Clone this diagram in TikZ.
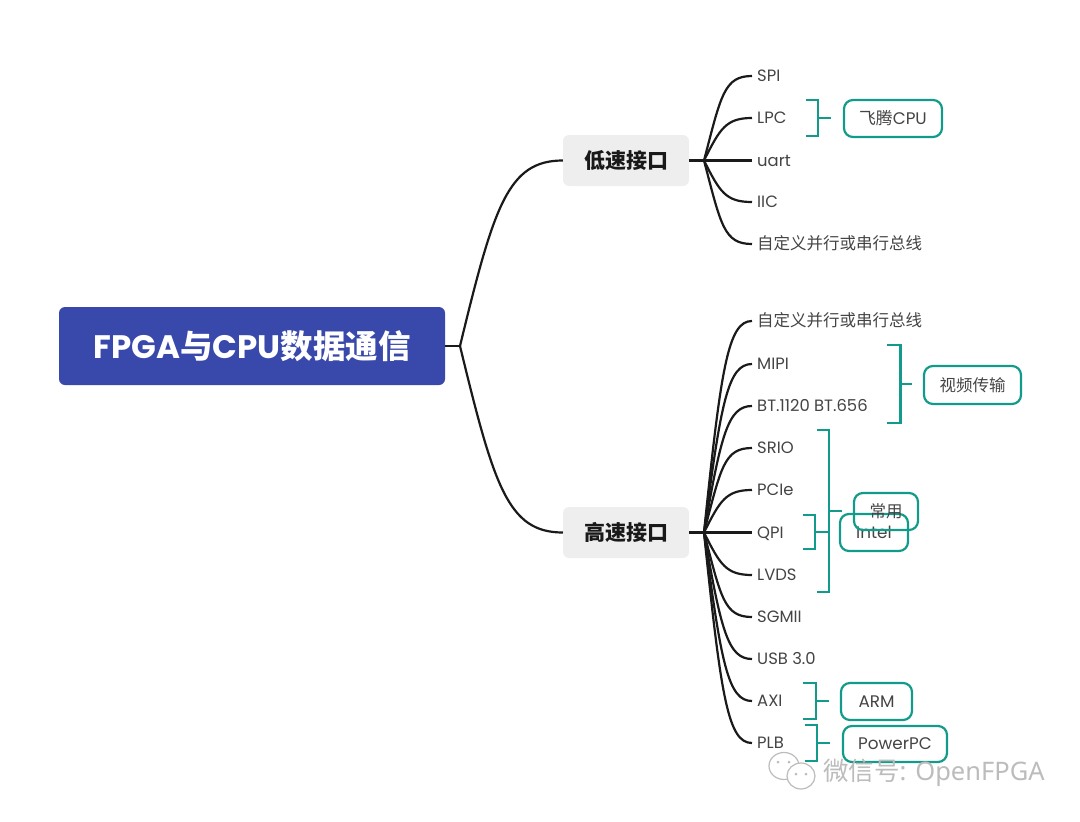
\documentclass[tikz,border=0pt]{standalone}
\usepackage{fontspec}
\setmainfont{Poppins}
\newfontfamily\cjk{Noto Sans CJK SC}
\newfontfamily\markfont{Noto Sans}
\definecolor{rootblue}{HTML}{3949AB}
\definecolor{midgray}{HTML}{EEEEEE}
\definecolor{braceteal}{HTML}{129A8A}
\definecolor{leafgray}{HTML}{444444}
\definecolor{linedark}{HTML}{1A1A1A}
\definecolor{markgray}{HTML}{BCBCBC}
\tikzset{
  rootbox/.style={fill=rootblue,text=white,rounded corners=6pt,minimum width=386pt,minimum height=78pt,font=\fontsize{32.5}{38}\selectfont\bfseries},
  midbox/.style={fill=midgray,text=black!90,rounded corners=6pt,minimum width=126pt,minimum height=51pt,font=\fontsize{21}{26}\selectfont\cjk\bfseries},
  leaf/.style={anchor=west,inner xsep=5pt,inner ysep=0pt,text height=13pt,text depth=1.5pt,text=leafgray,font=\fontsize{16.4}{18}\selectfont},
  tagbox/.style={draw=braceteal,line width=2.2pt,rounded corners=9pt,text=leafgray,font=\fontsize{16.8}{18}\selectfont},
  branch/.style={draw=linedark,line width=2.2pt},
  brace/.style={draw=braceteal,line width=2.4pt},
  markline/.style={draw=markgray,fill=white,line width=1.2pt}
}
\begin{document}
\begin{tikzpicture}[x=1pt,y=-1pt]
\useasboundingbox (0,0) rectangle (1080,822);

\node[rootbox] (root) at (252,346) {FPGA{\cjk 与}CPU{\cjk 数据通信}};
\node[midbox] (low) at (626,160.5) {低速接口};
\node[midbox] (high) at (626,532.5) {高速接口};
\coordinate (roothub) at (460,346);
\coordinate (lowhub) at (704,160.5);
\coordinate (highhub) at (704,532.5);

\node[leaf] (spi) at (752,76) {SPI};
\node[leaf] (lpc) at (752,118) {LPC};
\node[leaf] (uart) at (752,160.5) {uart};
\node[leaf] (iic) at (752,202) {IIC};
\node[leaf,font=\fontsize{16.5}{18}\selectfont\cjk] (lowbus) at (752,244) {自定义并行或串行总线};

\node[leaf,font=\fontsize{16.5}{18}\selectfont\cjk] (highbus) at (752,321) {自定义并行或串行总线};
\node[leaf] (mipi) at (752,364) {MIPI};
\node[leaf] (bt) at (752,406) {BT.1120 BT.656};
\node[leaf] (srio) at (752,448) {SRIO};
\node[leaf] (pcie) at (752,490) {PCIe};
\node[leaf] (qpi) at (752,532.5) {QPI};
\node[leaf] (lvds) at (752,575) {LVDS};
\node[leaf] (sgmii) at (752,617) {SGMII};
\node[leaf] (usb) at (752,659) {USB 3.0};
\node[leaf] (axi) at (752,701) {AXI};
\node[leaf] (plb) at (752,743) {PLB};

% root to middle
\draw[branch,line width=2pt] (root.east) -- (roothub);
\draw[branch] (roothub) .. controls +(34,-140) and +(-55,0) .. (low.west);
\draw[branch] (roothub) .. controls +(34,140) and +(-55,0) .. (high.west);
\draw[branch] (low.east) -- (lowhub);
\draw[branch] (high.east) -- (highhub);

% low speed
\draw[branch] (lowhub) .. controls +(17,-65) and +(-28,0) .. (spi.west);
\draw[branch] (lowhub) .. controls +(16,-32) and +(-26,0) .. (lpc.west);
\draw[branch] (lowhub) -- (uart.west);
\draw[branch] (lowhub) .. controls +(16,32) and +(-26,0) .. (iic.west);
\draw[branch] (lowhub) .. controls +(17,65) and +(-28,0) .. (lowbus.west);

% high speed
\draw[branch] (highhub) .. controls +(17,-165) and +(-24,0) .. (highbus.west);
\draw[branch] (highhub) .. controls +(17,-131) and +(-24,0) .. (mipi.west);
\draw[branch] (highhub) .. controls +(17,-98) and +(-24,0) .. (bt.west);
\draw[branch] (highhub) .. controls +(17,-65) and +(-28,0) .. (srio.west);
\draw[branch] (highhub) .. controls +(16,-32) and +(-26,0) .. (pcie.west);
\draw[branch] (highhub) -- (qpi.west);
\draw[branch] (highhub) .. controls +(16,32) and +(-26,0) .. (lvds.west);
\draw[branch] (highhub) .. controls +(17,65) and +(-28,0) .. (sgmii.west);
\draw[branch] (highhub) .. controls +(17,98) and +(-24,0) .. (usb.west);
\draw[branch] (highhub) .. controls +(17,131) and +(-24,0) .. (axi.west);
\draw[branch] (highhub) .. controls +(17,165) and +(-24,0) .. (plb.west);

% tags
\node[tagbox,minimum width=98pt,minimum height=37pt] (cpubox) at (893,118.5) {{\cjk 飞腾}CPU};
\node[tagbox,minimum width=97pt,minimum height=38pt,font=\fontsize{16.5}{18}\selectfont\cjk] (videobox) at (972.5,385) {视频传输};
\node[tagbox,minimum width=68pt,minimum height=37pt] (intelbox) at (874,532.5) {Intel};
\node[tagbox,minimum width=64pt,minimum height=37pt,font=\fontsize{16.5}{18}\selectfont\cjk] (usualbox) at (886,511.5) {常用};
\node[tagbox,minimum width=71pt,minimum height=37pt] (armbox) at (876.5,701.5) {ARM};
\node[tagbox,minimum width=104pt,minimum height=36pt] (ppcbox) at (895,744) {PowerPC};

\coordinate (cputick) at (818,118);
\coordinate (videotick) at (900.5,384);
\coordinate (usualtick) at (829,511);
\coordinate (inteltick) at (815,532);
\coordinate (armtick) at (816,701);
\coordinate (ppctick) at (817,743);

\draw[brace] (806,100) -| (cputick) |- (806,136);
\draw[brace,shorten >=12pt] (cputick) -- (cputick -| cpubox.west);
\draw[brace] (887,345) -| (videotick) |- (887,423);
\draw[brace,shorten >=11pt] (videotick) -- (videotick -| videobox.west);
\draw[brace] (817,430) -| (usualtick) |- (817,592);
\draw[brace,shorten >=11pt] (usualtick) -- (usualtick -| usualbox.west);
\draw[brace] (803,515) -| (inteltick) |- (803,549);
\draw[brace,shorten >=11pt] (inteltick) -- (inteltick -| intelbox.west);
\draw[brace] (803,683) -| (armtick) |- (803,719);
\draw[brace,shorten >=11pt] (armtick) -- (armtick -| armbox.west);
\draw[brace] (805,725) -| (ppctick) |- (805,761);
\draw[brace,shorten >=12pt] (ppctick) -- (ppctick -| ppcbox.west);

% watermark
\draw[markline] (784,766) ellipse (15 and 13.5);
\draw[markline] (801,776) ellipse (14 and 13);
\fill[markgray] (778,762) circle (1.5) (789,762) circle (1.5) (796,774) circle (1.5) (806,774) circle (1.5);
\node[text=markgray,anchor=west,inner sep=0pt,font=\fontsize{25.5}{30}\selectfont] (mark) at (823,773) {{\cjk 微信号}{\markfont : OpenFPGA}};
\end{tikzpicture}
\end{document}
